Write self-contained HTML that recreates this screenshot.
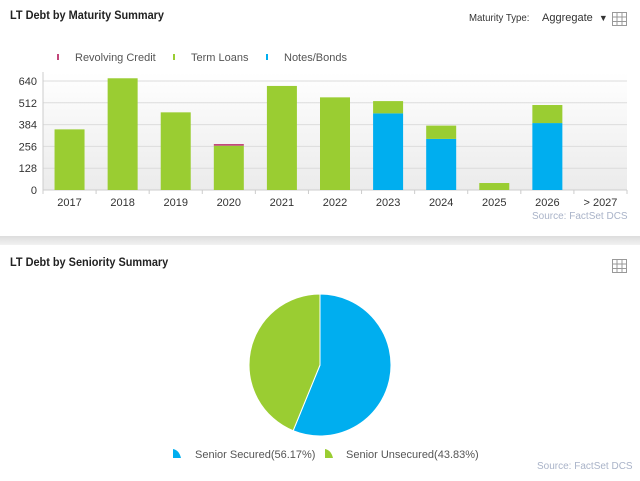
<!DOCTYPE html>
<html><head><meta charset="utf-8"><style>
body{margin:0;width:640px;height:481px;background:#fff;font-family:"Liberation Sans",sans-serif;overflow:hidden;position:relative}
.t{position:absolute;white-space:nowrap}
</style></head><body>
<div style="position:absolute;left:0;top:0;width:640px;height:236px;background:#fff"></div>
<div style="position:absolute;left:0;top:236px;width:640px;height:9px;background:linear-gradient(#ddd,#f2f2f2)"></div>
<div class="t" style="left:10px;top:10px;font-size:11.5px;font-weight:bold;color:#222;transform:scaleX(0.95);transform-origin:left">LT Debt by Maturity Summary</div>
<div class="t" style="left:469px;top:12px;font-size:10.5px;color:#333;transform:scaleX(0.92);transform-origin:left">Maturity Type:</div>
<div class="t" style="left:542px;top:12px;font-size:11px;color:#333">Aggregate <span style="font-size:9px;margin-left:3px">▼</span></div>
<svg style="position:absolute;left:612px;top:12px" width="16" height="15"><g fill="none" stroke="#999" stroke-width="1"><rect x="0.5" y="0.5" width="14" height="13"/><path d="M0 5H15M0 9.5H15M5 0V14M10 0V14"/></g></svg>
<svg width="640" height="236" style="position:absolute;left:0;top:0" id="bar"></svg>
<div class="t" style="left:532px;top:211px;font-size:10px;color:#a9b3c8">Source: FactSet DCS</div>

<div class="t" style="left:10px;top:257px;font-size:11.5px;font-weight:bold;color:#222;transform:scaleX(0.95);transform-origin:left">LT Debt by Seniority Summary</div>
<svg style="position:absolute;left:612px;top:259px" width="16" height="15"><g fill="none" stroke="#999" stroke-width="1"><rect x="0.5" y="0.5" width="14" height="13"/><path d="M0 5H15M0 9.5H15M5 0V14M10 0V14"/></g></svg>
<svg width="640" height="481" style="position:absolute;left:0;top:0" id="pie"></svg>
<div class="t" style="left:537px;top:461px;font-size:10px;color:#a9b3c8">Source: FactSet DCS</div>
<script>
const categories=["2017","2018","2019","2020","2021","2022","2023","2024","2025","2026","> 2027"];
const revolving=[0,0,0,10,0,0,0,0,0,0,0];
const termLoans=[356,656,456,260,611,544,72,78,41,106,0];
const notesBonds=[0,0,0,0,0,0,450,300,0,393,0];
const yTicks=[0,128,256,384,512,640];
const pieLabels=["Senior Secured","Senior Unsecured"];
const pieValues=[56.17,43.83];
const NS="http://www.w3.org/2000/svg";
function mk(p,tag,at){const e=document.createElementNS(NS,tag);for(const k in at)e.setAttribute(k,at[k]);p.appendChild(e);return e;}
const svg=document.getElementById('bar');
const X0=43,X1=627,Y0=190,Y640=81;
const band=(X1-X0)/categories.length;
const y=v=>Y0-(v/640)*(Y0-Y640);
const xc=i=>X0+band*(i+0.5);
const defs=mk(svg,'defs',{});
const lg=mk(defs,'linearGradient',{id:'bg',x1:0,y1:0,x2:0,y2:1});
mk(lg,'stop',{offset:0,'stop-color':'#fff'});mk(lg,'stop',{offset:1,'stop-color':'#ebebeb'});
let r=mk(svg,'rect',{x:X0,y:72,width:X1-X0,height:Y0-72,fill:'url(#bg)'});


yTicks.forEach(t=>{
 let l=mk(svg,'line',{x1:X0,x2:X1,y1:y(t),y2:y(t),stroke:t===0?'#ccc':'#dcdcdc'});
 
 
 let tx=mk(svg,'text',{x:37,y:y(t)+4,'text-anchor':'end','font-size':11,fill:'#333'});tx.textContent=t;
 
 
});
let ax=mk(svg,'line',{x1:X0,x2:X0,y1:72,y2:Y0+4,stroke:'#ccc'});


const bw=30;
categories.forEach((c,i)=>{
 let tk=mk(svg,'line',{x1:X0+band*(i+1),x2:X0+band*(i+1),y1:Y0,y2:Y0+4,stroke:'#ccc'});
 
 
 let base=0;
 [[notesBonds,'#00aeef','bar-notes-bonds'],[termLoans,'#9acd32','bar-term-loans'],[revolving,'#c2467a','bar-revolving-credit']].forEach(([arr,col,nm])=>{
  const v=arr[i];if(v<=0)return;
  let b=mk(svg,'rect',{x:xc(i)-bw/2,y:y(base+v),width:bw,height:y(base)-y(base+v),fill:col});
  
  
  base+=v;
 });
 let tx=mk(svg,'text',{x:xc(i),y:206,'text-anchor':'middle','font-size':11,fill:'#333'});tx.textContent=c;
 
 
});
[['Revolving Credit','#c2467a',57],['Term Loans','#9acd32',173],['Notes/Bonds','#00aeef',266]].forEach(([n,c,x])=>{
 let g=mk(svg,'g',{});
 
 
 mk(g,'rect',{x:x,y:54,width:2,height:6,fill:c});
 let t=mk(g,'text',{x:x+18,y:61,'font-size':11,fill:'#555'});t.textContent=n;
});
const ps=document.getElementById('pie');
const cx=320,cy=365,R=71,cols=['#00aeef','#9acd32'];
const tot=pieValues.reduce((a,b)=>a+b,0);
let a0=-Math.PI/2;
pieValues.forEach((v,i)=>{
 const a1=a0+v/tot*2*Math.PI;
 const large=(a1-a0)>Math.PI?1:0;
 const p=`M${cx},${cy}L${cx+R*Math.cos(a0)},${cy+R*Math.sin(a0)}A${R},${R} 0 ${large} 1 ${cx+R*Math.cos(a1)},${cy+R*Math.sin(a1)}Z`;
 let s=mk(ps,'path',{d:p,fill:cols[i],stroke:'#fff','stroke-width':1});
 
 
 a0=a1;
});
[[173,195],[325,346]].forEach(([ix,tx],i)=>{
 let g=mk(ps,'g',{});
 
 
 mk(g,'path',{d:`M${ix},${449}Q${ix+6},${450} ${ix+8},${458}L${ix},${458}Z`,fill:cols[i]});
 let t=mk(g,'text',{x:tx,y:458,'font-size':11,fill:'#555'});
 t.textContent=pieLabels[i]+'('+pieValues[i].toFixed(2)+'%)';
});
</script>
</body></html>
